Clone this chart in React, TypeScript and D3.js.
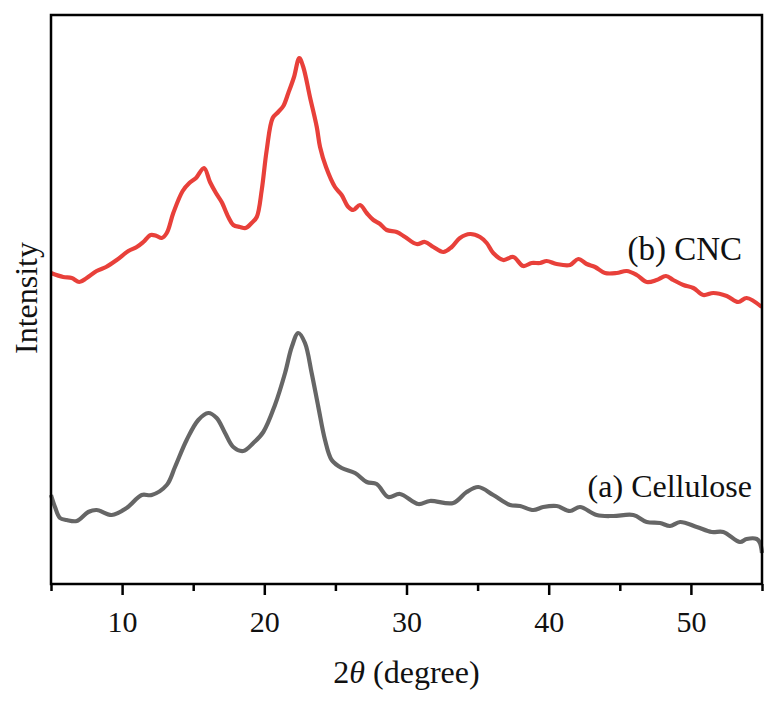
import * as d3 from "d3";
import { useEffect, useRef } from "react";

// 2θ (degree) and intensity (a.u.)
const cncTheta = [5.0, 5.86, 6.46, 6.99, 7.51, 8.21, 8.87, 9.62, 10.44, 11.03, 11.49, 12.01, 12.43, 12.78, 13.14, 13.6, 14.26, 14.73, 15.2, 15.76, 16.18, 16.6, 17.0, 17.47, 17.82, 18.29, 18.69, 19.11, 19.47, 19.82, 20.17, 20.59, 20.98, 21.34, 21.69, 22.09, 22.46, 22.74, 23.21, 23.69, 23.92, 24.34, 24.97, 25.44, 25.91, 26.26, 26.73, 27.2, 27.67, 28.14, 28.61, 29.31, 29.9, 30.72, 31.3, 31.89, 32.59, 33.18, 33.76, 34.47, 35.17, 35.64, 36.1, 36.81, 37.51, 38.21, 38.8, 39.39, 39.86, 40.56, 41.5, 42.08, 42.67, 43.26, 43.96, 44.78, 45.49, 46.19, 46.89, 47.59, 48.25, 48.76, 49.47, 50.17, 50.87, 51.58, 52.52, 53.33, 53.92, 54.98];
const cncIntensity = [311, 307, 306, 302, 306, 313, 317, 324, 333, 337, 342, 349, 348, 346, 351, 371, 393, 401, 406, 416, 402, 391, 382, 367, 359, 357, 356, 361, 367, 394, 434, 466, 472, 478, 491, 507, 526, 517, 487, 457, 437, 417, 397, 389, 377, 374, 379, 371, 364, 360, 354, 352, 347, 340, 342, 337, 332, 337, 346, 350, 347, 341, 331, 324, 327, 318, 321, 321, 323, 320, 319, 325, 320, 317, 311, 311, 313, 309, 302, 304, 308, 304, 299, 296, 289, 291, 288, 282, 286, 277];

const celTheta = [5.0, 5.28, 5.63, 6.1, 6.81, 7.62, 8.21, 9.27, 10.32, 11.38, 12.08, 13.14, 13.72, 14.54, 15.36, 16.06, 16.65, 17.24, 17.82, 18.52, 19.23, 19.93, 20.75, 21.46, 21.93, 22.39, 22.86, 23.33, 23.8, 24.27, 24.74, 25.44, 26.38, 27.2, 27.9, 28.72, 29.54, 30.83, 31.65, 33.29, 34.23, 35.05, 36.1, 37.28, 37.98, 38.92, 39.62, 40.56, 41.5, 42.2, 43.37, 44.54, 45.95, 46.89, 47.83, 48.53, 49.24, 50.41, 51.46, 52.28, 53.45, 53.92, 54.63, 54.86, 55.0];
const celIntensity = [89, 77, 66, 64, 63, 72, 74, 69, 76, 89, 89, 99, 117, 144, 164, 171, 166, 151, 137, 133, 141, 152, 179, 211, 237, 251, 241, 211, 177, 144, 124, 116, 111, 102, 100, 87, 90, 80, 83, 81, 92, 97, 89, 79, 78, 74, 77, 78, 73, 77, 69, 68, 69, 62, 61, 58, 62, 57, 52, 52, 42, 45, 45, 41, 31];

const majorTicks = [10, 20, 30, 40, 50];
const minorTicks = [5, 15, 25, 35, 45, 55];

const W = 776;
const H = 702;
const margin = { top: 15, right: 14, bottom: 118, left: 51 };
const FONT = "'Liberation Serif', 'Times New Roman', serif";

function App() {
  const ref = useRef<SVGSVGElement | null>(null);

  useEffect(() => {
    document.body.style.margin = "0";
    const svg = d3.select(ref.current);
    svg.selectAll("*").remove();

    const x = d3.scaleLinear().domain([5, 55]).range([margin.left, W - margin.right]);
    const y = d3.scaleLinear().domain([0, 569]).range([H - margin.bottom, margin.top]);
    const bottom = H - margin.bottom;

    const line = d3
      .line<[number, number]>()
      .x((d) => x(d[0]))
      .y((d) => y(d[1]))
      .curve(d3.curveCatmullRom.alpha(0.5));

    const g = svg.append("g");

    g.append("path")
      .datum(celTheta.map((t, i) => [t, celIntensity[i]] as [number, number]))
      .attr("d", line)
      .attr("fill", "none")
      .attr("stroke", "#666666")
      .attr("stroke-width", 4.2)
      .attr("stroke-linejoin", "round");

    g.append("path")
      .datum(cncTheta.map((t, i) => [t, cncIntensity[i]] as [number, number]))
      .attr("d", line)
      .attr("fill", "none")
      .attr("stroke", "#e8403a")
      .attr("stroke-width", 4.2)
      .attr("stroke-linejoin", "round");

    // frame
    g.append("rect")
      .attr("x", margin.left)
      .attr("y", margin.top)
      .attr("width", W - margin.right - margin.left)
      .attr("height", bottom - margin.top)
      .attr("fill", "none")
      .attr("stroke", "#000")
      .attr("stroke-width", 2.5);

    // minor ticks
    const minor = g
      .append("g")
      .attr("transform", `translate(0,${bottom})`)
      .call(d3.axisBottom(x).tickValues(minorTicks).tickSize(7).tickFormat(() => ""));
    minor.select(".domain").remove();
    minor.selectAll("line").attr("stroke-width", 2.5);

    const major = g
      .append("g")
      .attr("transform", `translate(0,${bottom})`)
      .call(d3.axisBottom(x).tickValues(majorTicks).tickSize(11).tickFormat(d3.format("d")));
    major.select(".domain").remove();
    major.selectAll("line").attr("stroke-width", 2.5);
    major
      .selectAll("text")
      .attr("y", 48)
      .attr("dy", 0)
      .attr("font-family", FONT)
      .attr("font-size", 30)
      .attr("fill", "#111");

    // axis titles
    const xt = svg
      .append("text")
      .attr("x", x(30))
      .attr("y", 683)
      .attr("text-anchor", "middle")
      .attr("font-family", FONT)
      .attr("font-size", 32)
      .attr("fill", "#111");
    xt.append("tspan").text("2");
    xt.append("tspan").attr("font-style", "italic").text("θ");
    xt.append("tspan").text(" (degree)");

    svg
      .append("text")
      .attr("transform", `translate(37,${298}) rotate(-90)`)
      .attr("text-anchor", "middle")
      .attr("font-family", FONT)
      .attr("font-size", 32)
      .attr("fill", "#111")
      .text("Intensity");

    // series labels
    svg
      .append("text")
      .attr("x", 742)
      .attr("y", 260)
      .attr("text-anchor", "end")
      .attr("font-family", FONT)
      .attr("font-size", 33)
      .attr("fill", "#111")
      .text("(b) CNC");

    svg
      .append("text")
      .attr("x", 752)
      .attr("y", 497)
      .attr("text-anchor", "end")
      .attr("font-family", FONT)
      .attr("font-size", 32)
      .attr("fill", "#111")
      .text("(a) Cellulose");
  }, []);

  return <svg ref={ref} width={W} height={H} style={{ display: "block", background: "#fff" }}></svg>;
}

export default App;
